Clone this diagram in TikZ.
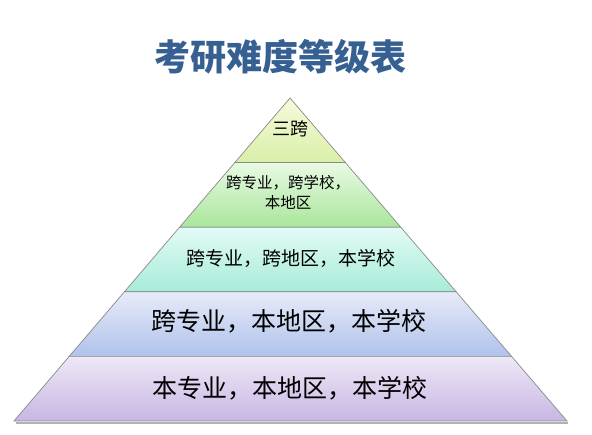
\documentclass[tikz,border=0pt]{standalone}
\usepackage{fontspec}
\usepackage{tikz}
\usetikzlibrary{calc}
\newfontfamily\cjk{Noto Sans CJK SC}
\definecolor{titleblue}{HTML}{376092}
\definecolor{edgegray}{HTML}{8A8A8A}
\definecolor{yelTop}{HTML}{F4FBDC}
\definecolor{yelBot}{HTML}{DAEFA8}
\definecolor{grnTop}{HTML}{E8FAE4}
\definecolor{grnBot}{HTML}{A9E69B}
\definecolor{aquTop}{HTML}{E3FBF6}
\definecolor{aquBot}{HTML}{A6EBD9}
\definecolor{bluTop}{HTML}{E7EBF8}
\definecolor{bluBot}{HTML}{AFC2EB}
\definecolor{purTop}{HTML}{EEE8F7}
\definecolor{purBot}{HTML}{C8B6E3}

\begin{document}
\begin{tikzpicture}[
  x=1pt, y=-1pt,
  tier/.style={draw=edgegray,line width=0.7pt},
  tiertext/.style={inner sep=0pt,align=center,text=black}
]
\useasboundingbox (0,0) rectangle (592,435);
\coordinate (apex) at (290,98);
\coordinate (bl) at (14,421);
\coordinate (br) at (567,421);
% shadow under the base
\draw[black!30,line width=2pt] ($(bl)+(2,1.8)$) -- ($(br)+(1,1.8)$);
\foreach \i/\ctop/\cbot in {0/yelTop/yelBot,1/grnTop/grnBot,2/aquTop/aquBot,3/bluTop/bluBot,4/purTop/purBot}{
  \pgfmathsetmacro\ta{\i/5}
  \pgfmathsetmacro\tb{(\i+1)/5}
  \shade[tier,top color=\ctop,bottom color=\cbot]
    ($(apex)!\ta!(bl)$) -- ($(apex)!\tb!(bl)$) -- ($(apex)!\tb!(br)$) -- ($(apex)!\ta!(br)$) -- cycle;
}
\node[text=titleblue,font=\cjk\bfseries\fontsize{36}{40}\selectfont,inner sep=0pt] (title) at (280,57) {考研难度等级表};
\node[tiertext,font=\cjk\fontsize{18}{20}\selectfont] (t1) at (290,129) {三跨};
\node[tiertext,font=\cjk\fontsize{15.5}{20}\selectfont] (t2) at (288,193) {跨专业，跨学校，\\本地区};
\node[tiertext,font=\cjk\fontsize{19}{22}\selectfont] (t3) at (291,258) {跨专业，跨地区，本学校};
\node[tiertext,font=\cjk\fontsize{25}{28}\selectfont] (t4) at (289,321) {跨专业，本地区，本学校};
\node[tiertext,font=\cjk\fontsize{25}{28}\selectfont] (t5) at (290,388) {本专业，本地区，本学校};
\end{tikzpicture}
\end{document}
